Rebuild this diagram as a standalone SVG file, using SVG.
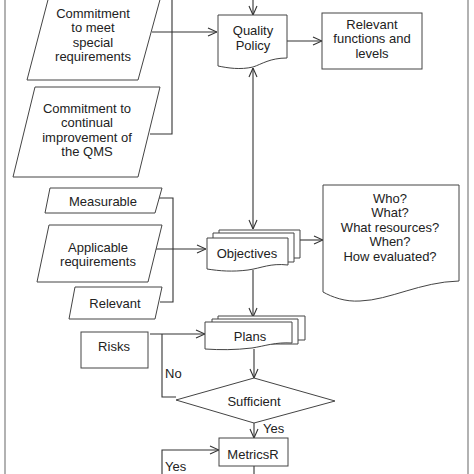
<svg xmlns="http://www.w3.org/2000/svg" width="474" height="474" viewBox="0 0 474 474">
<defs>
<style>
.s{fill:#fff;stroke:#444;stroke-width:1}
.c{fill:none;stroke:#333;stroke-width:1.1}
.b{fill:none;stroke:#999;stroke-width:1.5}
text{font-family:"Liberation Sans",Arial,sans-serif;font-size:13px;fill:#222;text-anchor:middle;dominant-baseline:central}
.l{text-anchor:start}
</style>
<marker id="a" viewBox="0 0 10 10" refX="10" refY="5" markerWidth="10" markerHeight="10" markerUnits="userSpaceOnUse" orient="auto-start-reverse">
<path d="M1,1 L10,5 L1,9" fill="none" stroke="#333" stroke-width="1.1"/>
</marker>
</defs>
<rect width="474" height="474" fill="#fff"/>
<line class="b" x1="5" y1="0" x2="5" y2="474"/>
<line class="b" x1="468" y1="0" x2="468" y2="474"/>

<g id="connectors">
<line class="c" x1="152" y1="32" x2="217" y2="32" marker-end="url(#a)"/>
<line class="c" x1="253" y1="0" x2="253" y2="15" marker-end="url(#a)"/>
<path class="c" d="M172,0 V134 H150"/>
<line class="c" x1="287" y1="41" x2="322" y2="41" marker-end="url(#a)"/>
<line class="c" x1="253" y1="68" x2="253" y2="229" marker-start="url(#a)" marker-end="url(#a)"/>
<path class="c" d="M158,198 H173 V302 H160"/>
<line class="c" x1="153" y1="249" x2="206" y2="249" marker-end="url(#a)"/>
<line class="c" x1="299" y1="240" x2="323" y2="240" marker-end="url(#a)"/>
<line class="c" x1="253" y1="270" x2="253" y2="317" marker-end="url(#a)"/>
<line class="c" x1="150" y1="334" x2="205" y2="334" marker-end="url(#a)"/>
<path class="c" d="M176,397 H162 V334"/>
<line class="c" x1="254" y1="349" x2="254" y2="378" marker-end="url(#a)"/>
<line class="c" x1="254" y1="423" x2="254" y2="438" marker-end="url(#a)"/>
<path class="c" d="M162,474 V450 H219" marker-end="url(#a)"/>
<line class="c" x1="254" y1="466" x2="254" y2="474"/>
</g>

<g id="p1">
<polygon class="s" points="49,-4 161,-4 138,80 27,80"/>
<text x="93" y="13">Commitment</text>
<text x="93" y="27.5">to meet</text>
<text x="93" y="42">special</text>
<text x="93" y="56.5">requirements</text>
</g>
<g id="p2">
<polygon class="s" points="35,87 160,87 138,177 13,177"/>
<text x="87" y="108">Commitment to</text>
<text x="87" y="122.5">continual</text>
<text x="87" y="137">improvement of</text>
<text x="87" y="151.5">the QMS</text>
</g>
<g id="qp">
<path class="s" d="M218,15 H287 V58 C270,58 262,64 253,67 C240,70 228,68 218,66 Z"/>
<text x="253" y="30">Quality</text>
<text x="253" y="45">Policy</text>
</g>
<g id="rf">
<rect class="s" x="322" y="13" width="100" height="56"/>
<text x="372" y="24">Relevant</text>
<text x="372" y="38.5">functions and</text>
<text x="372" y="53">levels</text>
</g>
<g id="measurable">
<polygon class="s" points="50,188 162,188 155,213 45,213"/>
<text x="103" y="201">Measurable</text>
</g>
<g id="applicable">
<polygon class="s" points="49,225 162,225 148,282 37,282"/>
<text x="98" y="247">Applicable</text>
<text x="98" y="261.5">requirements</text>
</g>
<g id="relevant">
<polygon class="s" points="75,287 162,287 155,319 69,319"/>
<text x="115" y="303">Relevant</text>
</g>
<g id="objectives">
<path class="s" d="M219,230 H300 V258 H219 Z"/>
<path class="s" d="M213,233 H294 V262 H213 Z"/>
<path class="s" d="M207,238 H288 V265 C270,263 262,268 248,270 C232,272 220,271 207,269 Z"/>
<text x="247" y="253">Objectives</text>
</g>
<g id="who">
<path class="s" d="M323,185 H459 V281 C420,282 390,300 360,301 C345,302 332,297 323,292 Z"/>
<text x="390" y="198">Who?</text>
<text x="390" y="212.5">What?</text>
<text x="390" y="227">What resources?</text>
<text x="390" y="241.5">When?</text>
<text x="390" y="256">How evaluated?</text>
</g>
<g id="plans">
<path class="s" d="M218,316 H305 V340 H218 Z"/>
<path class="s" d="M212,319 H298 V344 H212 Z"/>
<path class="s" d="M205,322 H292 V343 C275,342 265,346 252,348 C235,350 220,350 205,349 Z"/>
<text x="250" y="336">Plans</text>
</g>
<g id="risks">
<rect class="s" x="81" y="332" width="67" height="36"/>
<text x="114" y="346">Risks</text>
</g>
<g id="sufficient">
<polygon class="s" points="176,400 254,378 335,401 254,423"/>
<text x="254" y="401">Sufficient</text>
</g>
<g id="metrics">
<rect class="s" x="219" y="438" width="69" height="28"/>
<text x="253" y="454">MetricsR</text>
</g>
<g id="labels">
<text class="l" x="165" y="373">No</text>
<text class="l" x="263" y="428">Yes</text>
<text class="l" x="165" y="466">Yes</text>
</g>
</svg>
